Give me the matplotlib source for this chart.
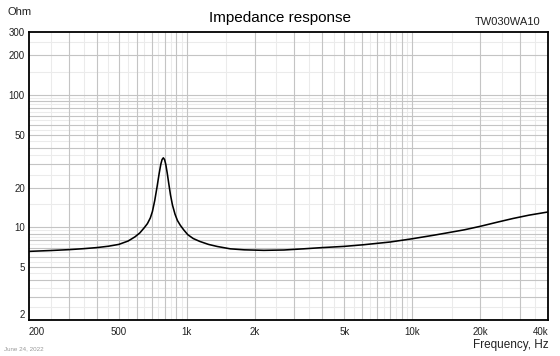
import numpy as np
import matplotlib
matplotlib.use("Agg")
import matplotlib.pyplot as plt
from matplotlib.ticker import FixedLocator, NullLocator

plt.rcParams['font.family'] = ['Liberation Sans', 'DejaVu Sans']

freq_hz = [200, 250, 300, 350, 400, 450, 500, 550, 590, 620, 650, 670, 690, 705,
           722, 740, 755, 768, 778, 788, 798, 808, 820, 833, 848, 865, 888, 910,
           937, 970, 1012, 1070, 1143, 1250, 1365, 1560, 1800, 2200,
           2700, 3300, 4000, 5000, 6100, 8000, 10000, 12500, 14200, 17000,
           20000, 24000, 28000, 33000, 40000]
impedance_ohm = [6.6, 6.7, 6.8, 6.92, 7.05, 7.22, 7.45, 7.9, 8.5, 9.1, 10.0, 10.7,
                 11.8, 13.2, 16.0, 20.5, 25.5, 30.0, 32.6, 33.6, 32.6, 30.0, 25.8,
                 21.5, 17.6, 14.8, 12.6, 11.3, 10.4, 9.6, 8.82, 8.25,
                 7.85, 7.45, 7.19, 6.9, 6.78, 6.72, 6.76, 6.9, 7.05, 7.2, 7.41,
                 7.77, 8.22, 8.75, 9.09, 9.6, 10.2, 11.0, 11.7, 12.4, 13.1]

x_ticks = [200, 500, 1000, 2000, 5000, 10000, 20000, 40000]
x_labels = ['200', '500', '1k', '2k', '5k', '10k', '20k', '40k']
y_ticks = [2, 5, 10, 20, 50, 100, 200, 300]
y_labels = ['2', '5', '10', '20', '50', '100', '200', '300']

fig = plt.figure(figsize=(5.6, 3.56), dpi=100)
ax = fig.add_axes([29 / 560, 1 - 320 / 356, 519 / 560, 288 / 356])
ax.set_xscale('log')
ax.set_yscale('log')
ax.set_xlim(200, 40000)
ax.set_ylim(2, 300)

# grid lines
major_x, minor_x, major_y, minor_y = [], [], [], []
for dec in [100, 1000, 10000]:
    for m in range(1, 10):
        major_x.append(m * dec)
        minor_x.append((m + 0.5) * dec)
for dec in [1, 10, 100]:
    for m in range(1, 10):
        major_y.append(m * dec)
        minor_y.append((m + 0.5) * dec)
for v in minor_x:
    if 200 < v < 40000:
        ax.axvline(v, color='#ebebeb', lw=0.75, zorder=0)
for v in minor_y:
    if 2 < v < 300:
        ax.axhline(v, color='#ebebeb', lw=0.75, zorder=0)
for v in major_x:
    if 200 < v < 40000:
        ax.axvline(v, color='#c4c4c4', lw=0.8, zorder=1)
for v in major_y:
    if 2 < v < 300:
        ax.axhline(v, color='#c4c4c4', lw=0.8, zorder=1)

ax.plot(freq_hz, impedance_ohm, color='black', lw=1.15, zorder=3,
        solid_capstyle='round', solid_joinstyle='round')

ax.xaxis.set_major_locator(FixedLocator(x_ticks))
ax.xaxis.set_minor_locator(NullLocator())
ax.set_xticklabels(x_labels)
ax.yaxis.set_major_locator(FixedLocator(y_ticks))
ax.yaxis.set_minor_locator(NullLocator())
ax.set_yticklabels(y_labels)
ax.tick_params(axis='both', length=0, labelsize=7, colors='#222222')
ax.tick_params(axis='x', pad=5)
ax.tick_params(axis='y', pad=3)
xl = ax.get_xticklabels()
xl[0].set_horizontalalignment('left')
xl[-1].set_horizontalalignment('right')
yl = ax.get_yticklabels()
yl[0].set_verticalalignment('bottom')

for s in ax.spines.values():
    s.set_linewidth(1.3)
    s.set_color('black')

fig.text(8 / 560, 1 - 12 / 356, 'Ohm', fontsize=8, ha='left', va='center', color='#222222')
fig.text(280 / 560, 1 - 18 / 356, 'Impedance response', fontsize=11, ha='center', va='center', color='black')
fig.text(540 / 560, 1 - 22 / 356, 'TW030WA10', fontsize=8, ha='right', va='center', color='#222222')
fig.text(549 / 560, 1 - 345 / 356, 'Frequency, Hz', fontsize=8.5, ha='right', va='center', color='#222222')
fig.text(4 / 560, 1 - 349 / 356, 'June 24, 2022', fontsize=4.5, ha='left', va='center', color='#999999')

fig.savefig('out.png', dpi=100, facecolor='white')
